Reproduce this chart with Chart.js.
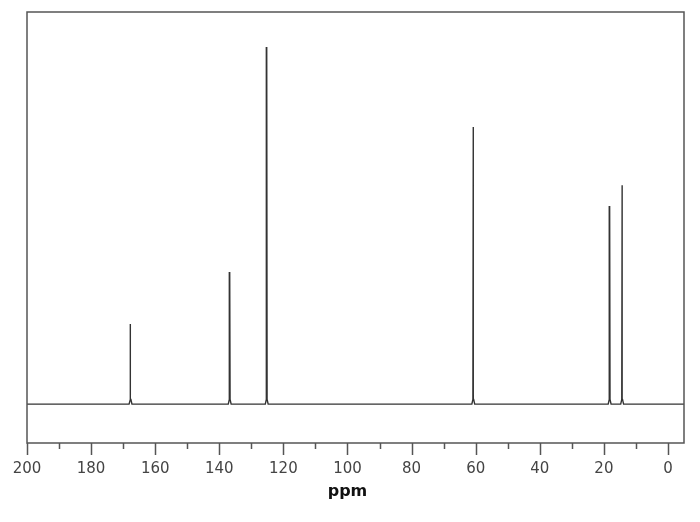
<!DOCTYPE html>
<html>
<head>
<meta charset="utf-8">
<script src="https://cdn.jsdelivr.net/npm/chart.js@4"></script>
<style>
  html, body { margin: 0; padding: 0; background: #fff; }
  #wrap { width: 700px; height: 522px; }
</style>
</head>
<body>
<div id="wrap"><canvas id="nmrChart"></canvas></div>
<script>
// peak shifts (ppm) and relative intensities
var peakShifts = [167.7, 136.75, 125.2, 60.75, 18.2, 14.3];
var peakHeights = [22.4, 37.0, 100, 77.6, 55.5, 61.3];
var tickValues = [0, 10, 20, 30, 40, 50, 60, 70, 80, 90, 100, 110, 120, 130, 140, 150, 160, 170, 180, 190, 200];
var labelValues = [0, 20, 40, 60, 80, 100, 120, 140, 160, 180, 200];
var ppmMin = -5, ppmMax = 200;
var bumpHeight = 1.3, bumpWidth = 0.45;

document.addEventListener("DOMContentLoaded", function() {
    // baseline with a narrow line shape at each peak
    var points = [{ x: ppmMin, y: 0 }];
    var order = peakShifts.map(function(v, i) { return i; }).sort(function(a, b) { return peakShifts[a] - peakShifts[b]; });
    order.forEach(function(i) {
        var v = peakShifts[i];
        points.push({ x: v - bumpWidth, y: 0 });
        points.push({ x: v - 0.12, y: bumpHeight });
        points.push({ x: v, y: peakHeights[i] });
        points.push({ x: v + 0.12, y: bumpHeight });
        points.push({ x: v + bumpWidth, y: 0 });
    });
    points.push({ x: ppmMax, y: 0 });

    var frame = {
        id: "frame",
        afterDraw: function(chart) {
            var c = chart.ctx, a = chart.chartArea, xs = chart.scales.x;
            c.save();
            c.strokeStyle = "#555";
            c.lineWidth = 1.5;
            c.strokeRect(a.left, a.top, a.right - a.left, a.bottom - a.top);
            c.beginPath();
            tickValues.forEach(function(v) {
                var px = Math.round(xs.getPixelForValue(v)) + 0.5;
                var len = (v % 20 === 0) ? 12 : 6;
                c.moveTo(px, a.bottom);
                c.lineTo(px, a.bottom + len);
            });
            c.lineWidth = 1.5;
            c.stroke();
            c.fillStyle = "#111";
            c.font = "bold 16px 'DejaVu Sans'";
            c.textAlign = "center";
            c.textBaseline = "middle";
            c.fillText("ppm", xs.getPixelForValue(100), 492);
            c.restore();
        }
    };

    new Chart(document.getElementById("nmrChart").getContext("2d"), {
        type: "line",
        data: {
            datasets: [{
                data: points,
                borderColor: "#333",
                borderWidth: 1.4,
                pointRadius: 0,
                tension: 0,
                fill: false
            }]
        },
        options: {
            responsive: true,
            maintainAspectRatio: false,
            animation: false,
            layout: { padding: { top: 12, right: 16, bottom: 0, left: 27 } },
            plugins: {
                legend: { display: false },
                tooltip: { enabled: false }
            },
            scales: {
                x: {
                    type: "linear",
                    reverse: true,
                    min: ppmMin,
                    max: ppmMax,
                    afterBuildTicks: function(scale) {
                        scale.ticks = tickValues.map(function(v) { return { value: v }; });
                    },
                    afterFit: function(scale) { scale.height = 79; },
                    grid: { display: false, drawTicks: false },
                    border: { display: false },
                    ticks: {
                        autoSkip: false,
                        maxRotation: 0,
                        minRotation: 0,
                        padding: 17,
                        color: "#444",
                        font: { family: "DejaVu Sans", size: 15 },
                        callback: function(v) { return labelValues.indexOf(v) >= 0 ? String(v) : ""; }
                    }
                },
                y: {
                    display: false,
                    min: -10.9,
                    max: 109.8
                }
            }
        },
        plugins: [frame]
    });
});
</script>
</body>
</html>
